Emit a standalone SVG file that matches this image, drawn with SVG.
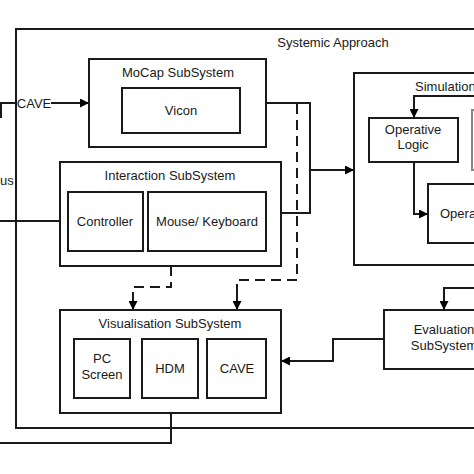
<svg xmlns="http://www.w3.org/2000/svg" width="474" height="474" viewBox="0 0 474 474">
<defs>
<marker id="ah" viewBox="0 0 10 10" refX="10" refY="5" markerWidth="10" markerHeight="9" markerUnits="userSpaceOnUse" orient="auto">
<path d="M0,0 L10,5 L0,10 z" fill="#000"/>
</marker>
</defs>
<style>
.box{fill:#fff;stroke:#1a1a1a;stroke-width:2}
.grp{fill:none;stroke:#1a1a1a;stroke-width:2}
.gray{fill:none;stroke:#888;stroke-width:2}
.ln{fill:none;stroke:#1a1a1a;stroke-width:2}
.dash{fill:none;stroke:#1a1a1a;stroke-width:2;stroke-dasharray:10 6}
text{font-family:"Liberation Sans",Arial,sans-serif;font-size:13px;fill:#1a1a1a;text-anchor:middle}
</style>
<rect width="474" height="474" fill="#fff"/>
<g id="systemic-approach">
<rect class="grp" x="16" y="29" width="470" height="399"/>
<text x="333" y="47">Systemic Approach</text>
</g>
<g id="connectors">
<path class="ln" d="M1,118 V103 H16"/>
<path class="ln" d="M51,103 H89" marker-end="url(#ah)"/>
<path class="ln" d="M0,221 H68"/>
<path class="ln" d="M266,103 H310 V213 H281"/>
<path class="ln" d="M310,170 H354" marker-end="url(#ah)"/>
<path class="dash" d="M297,104 V280 H237 V296"/>
<path class="ln" d="M237,292 V310" marker-end="url(#ah)"/>
<path class="dash" d="M171,266 V287 H133 V296"/>
<path class="ln" d="M133,292 V310" marker-end="url(#ah)"/>
<path class="ln" d="M171,413 V443 H0"/>
<path class="ln" d="M476,288 H444 V310" marker-end="url(#ah)"/>
<path class="ln" d="M384,339 H333 V361 H281" marker-end="url(#ah)"/>
<path class="ln" d="M476,96 H414 V118" marker-end="url(#ah)"/>
<path class="ln" d="M414,162 V214 H428" marker-end="url(#ah)"/>
<text x="34" y="108">CAVE</text>
<text x="0" y="185" style="text-anchor:start">us</text>
</g>
<g id="mocap">
<rect class="box" x="89" y="59" width="177" height="88"/>
<text x="178" y="77">MoCap SubSystem</text>
</g>
<g id="vicon">
<rect class="box" x="122" y="88" width="118" height="45"/>
<text x="181" y="115">Vicon</text>
</g>
<g id="interaction">
<rect class="box" x="60" y="162" width="221" height="104"/>
<text x="170" y="180">Interaction SubSystem</text>
</g>
<g id="controller">
<rect class="box" x="68" y="192" width="75" height="59"/>
<text x="105" y="226">Controller</text>
</g>
<g id="mouse-keyboard">
<rect class="box" x="148" y="192" width="118" height="59"/>
<text x="207" y="226">Mouse/ Keyboard</text>
</g>
<g id="visualisation">
<rect class="box" x="60" y="310" width="221" height="103"/>
<text x="170" y="328">Visualisation SubSystem</text>
</g>
<g id="pc-screen">
<rect class="box" x="74" y="339" width="56" height="59"/>
<text x="102" y="363">PC</text>
<text x="102" y="379">Screen</text>
</g>
<g id="hdm">
<rect class="box" x="142" y="339" width="56" height="59"/>
<text x="170" y="373">HDM</text>
</g>
<g id="cave">
<rect class="box" x="207" y="339" width="59" height="59"/>
<text x="237" y="373">CAVE</text>
</g>
<g id="simulation">
<rect class="grp" x="354" y="73" width="140" height="192"/>
<text x="415" y="91" style="text-anchor:start">Simulation</text>
</g>
<g id="operative-logic">
<rect class="box" x="369" y="118" width="89" height="44"/>
<text x="413" y="134">Operative</text>
<text x="413" y="149">Logic</text>
</g>
<g id="gray-box">
<rect class="gray" x="472" y="110" width="30" height="60"/>
</g>
<g id="operative">
<rect class="box" x="428" y="184" width="70" height="59"/>
<text x="440" y="218" style="text-anchor:start">Operative</text>
</g>
<g id="evaluation">
<rect class="box" x="384" y="310" width="120" height="59"/>
<text x="444" y="334">Evaluation</text>
<text x="444" y="350">SubSystem</text>
</g>
</svg>
